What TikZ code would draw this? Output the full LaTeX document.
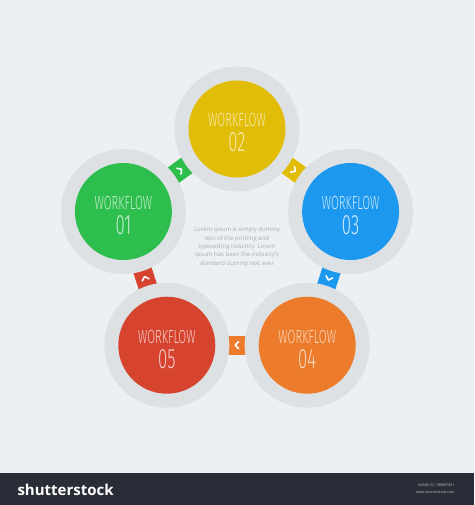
\documentclass[tikz,border=0pt]{standalone}
\usepackage{fontspec}
\setmainfont{Open Sans}
\newfontfamily\wffont[FakeStretch=0.6]{Fira Sans Light}
\usetikzlibrary{calc}

\definecolor{bgcol}{HTML}{EDF0F2}
\definecolor{ringcol}{HTML}{DDE1E4}
\definecolor{wfgreen}{HTML}{2DBE4E}
\definecolor{wfyellow}{HTML}{E1BD08}
\definecolor{wfblue}{HTML}{1C98EF}
\definecolor{wforange}{HTML}{EC7B2B}
\definecolor{wfred}{HTML}{D6432F}
\definecolor{barcol}{HTML}{2A2D37}
\definecolor{loremcol}{HTML}{A7AEB4}

\begin{document}
\begin{tikzpicture}[x=1pt,y=-1pt,
    ring/.style={circle, fill=ringcol, minimum size=125pt, inner sep=0pt},
    disc/.style={circle, minimum size=97pt, inner sep=0pt},
    link/.style={rectangle, minimum size=19pt, inner sep=0pt},
    chev/.style={draw=white, line width=1.6pt, line cap=round, line join=round},
    wftitle/.style={anchor=base, inner sep=0pt, font=\wffont\fontsize{19}{19}\selectfont},
    wfnum/.style={anchor=base, inner sep=0pt, font=\wffont\fontsize{28}{28}\selectfont}]

    % Background and bottom bar
    \fill[bgcol] (0,0) rectangle (474,505);
    \fill[barcol] (0,473) rectangle (474,505);
    \useasboundingbox (0,0) rectangle (474,505);

    % Circle centres
    \coordinate (c1) at (123.4,211.5);
    \coordinate (c2) at (237,129);
    \coordinate (c3) at (350.6,211.5);
    \coordinate (c4) at (307.2,345.2);
    \coordinate (c5) at (166.8,345.2);

	% Links between the circles
    \node[link, fill=wfgreen, rotate=36] (l12) at ($(c1)!0.5!(c2)$) {};
    \node[link, fill=wfyellow, rotate=-36] (l23) at ($(c2)!0.5!(c3)$) {};
    \node[link, fill=wfblue, rotate=72] (l34) at ($(c3)!0.5!(c4)$) {};
    \node[link, fill=wforange] (l45) at ($(c4)!0.5!(c5)$) {};
    \node[link, fill=wfred, rotate=18] (l51) at ($(c5)!0.5!(c1)$) {};

    % Arrows on the links
    \draw[chev, rotate around={36:(l12)}] ($(l12)+(-1.6,-3.5)$) -- ($(l12)+(1.8,0)$) -- ($(l12)+(-1.6,3.5)$);
    \draw[chev, rotate around={-36:(l23)}] ($(l23)+(-1.6,-3.5)$) -- ($(l23)+(1.8,0)$) -- ($(l23)+(-1.6,3.5)$);
    \draw[chev, rotate around={-108:(l34)}] ($(l34)+(-1.6,-3.5)$) -- ($(l34)+(1.8,0)$) -- ($(l34)+(-1.6,3.5)$);
    \draw[chev, rotate around={180:(l45)}] ($(l45)+(-1.6,-3.5)$) -- ($(l45)+(1.8,0)$) -- ($(l45)+(-1.6,3.5)$);
    \draw[chev, rotate around={108:(l51)}] ($(l51)+(-1.6,-3.5)$) -- ($(l51)+(1.8,0)$) -- ($(l51)+(-1.6,3.5)$);

    % Rings
    \node[ring] (r1) at (c1) {};
    \node[ring] (r2) at (c2) {};
    \node[ring] (r3) at (c3) {};
    \node[ring] (r4) at (c4) {};
    \node[ring] (r5) at (c5) {};

    % Coloured discs
    \node[disc, fill=wfgreen] (w1) at (c1) {};
    \node[disc, fill=wfyellow] (w2) at (c2) {};
    \node[disc, fill=wfblue] (w3) at (c3) {};
    \node[disc, fill=wforange] (w4) at (c4) {};
    \node[disc, fill=wfred] (w5) at (c5) {};

    % Labels
    \node[wftitle, text=white!75!wfgreen] (t1) at ($(c1)+(0,-2)$) {WORKFLOW};
    \node[wfnum, text=white!75!wfgreen] (n1) at ($(c1)+(0,23)$) {01};
    \node[wftitle, text=white!70!wfyellow] (t2) at ($(c2)+(0,-2)$) {WORKFLOW};
    \node[wfnum, text=white!70!wfyellow] (n2) at ($(c2)+(0,23)$) {02};
    \node[wftitle, text=white!80!wfblue] (t3) at ($(c3)+(0,-2)$) {WORKFLOW};
    \node[wfnum, text=white!80!wfblue] (n3) at ($(c3)+(0,23)$) {03};
    \node[wftitle, text=white!72!wforange] (t4) at ($(c4)+(0,-2)$) {WORKFLOW};
    \node[wfnum, text=white!72!wforange] (n4) at ($(c4)+(0,23)$) {04};
    \node[wftitle, text=white!75!wfred] (t5) at ($(c5)+(0,-2)$) {WORKFLOW};
    \node[wfnum, text=white!75!wfred] (n5) at ($(c5)+(0,23)$) {05};

    % Centre text
    \node[align=center, text=loremcol, font=\fontsize{6}{8.4}\selectfont] (lorem) at (237,247)
        {Lorem Ipsum is simply dummy\\text of the printing and\\typesetting industry. Lorem\\Ipsum has been the industry's\\standard dummy text ever};

    % Bar texts
    \node[anchor=west, text=white, font=\bfseries\fontsize{15}{15}\selectfont] (brand) at (14,490) {shutterstock};
    \node[anchor=east, align=right, text=white!70!barcol, font=\fontsize{3.6}{7}\selectfont] (imgid) at (458,489)
        {IMAGE ID: 788807851\\www.shutterstock.com};

\end{tikzpicture}
\end{document}
